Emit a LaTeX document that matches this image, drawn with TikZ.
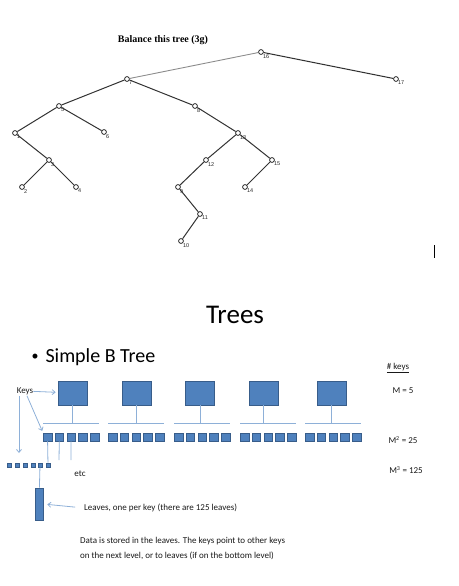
\documentclass[tikz,border=0pt]{standalone}
\usepackage{fontspec}
\setmainfont{Carlito}
\newfontfamily\serifb{Liberation Serif}
\newfontfamily\tinysans{Liberation Sans}
\usetikzlibrary{arrows.meta}
\definecolor{boxfill}{HTML}{4F81BD}
\definecolor{boxline}{HTML}{385D8A}
\definecolor{lineblue}{HTML}{8EB0D8}
\begin{document}
\begin{tikzpicture}[x=1pt,y=-1pt,
  tn/.style={circle,draw=black!85,line width=0.8pt,minimum size=4.8pt,inner sep=0pt},
  lbl/.style={font=\tinysans\fontsize{5.5}{6}\selectfont,inner sep=0pt,anchor=north west,text=black!85},
  edge/.style={draw=black!80,line width=1pt},
  edgel/.style={draw=black!45,line width=0.9pt},
  bigbox/.style={draw=boxline,fill=boxfill,line width=0.6pt,minimum width=29pt,minimum height=24pt,inner sep=0pt},
  sq/.style={draw=boxline,fill=boxfill,line width=0.5pt,minimum width=8.5pt,minimum height=8pt,inner sep=0pt},
  tsq/.style={draw=boxline,fill=boxfill,line width=0.4pt,minimum width=4.5pt,minimum height=4.5pt,inner sep=0pt},
  leaf/.style={draw=boxline,fill=boxfill,line width=0.6pt,minimum width=8pt,minimum height=32pt,inner sep=0pt},
  bl/.style={draw=lineblue,line width=0.8pt},
  arr/.style={draw=lineblue,line width=0.8pt,-{Straight Barb[length=3pt,width=5pt]}},
  txt/.style={font=\fontsize{9}{11}\selectfont,inner sep=0pt,text=black!90}
]
\useasboundingbox (0,0) rectangle (458,586);

% ---------- top tree ----------
\node[font=\serifb\bfseries\fontsize{10}{12}\selectfont] (title) at (163,40) {Balance this tree (3g)};
\foreach \n/\x/\y in {16/261/52,17/396/79,7/127/79,5/59/106,8/195/106,1/15/133,6/104/132,13/238/133,3/49/160,12/206/160,15/272/160,2/22/187,4/76/187,9/178/187,14/245/187,11/200/214,10/181/241}
  \node[tn,label={[lbl]south east:\n}] (n\n) at (\x,\y) {};
\draw[edgel] (n16) -- (n7);
\draw[edge] (n16) -- (n17);
\draw[edge] (n7) -- (n5);
\draw[edge] (n7) -- (n8);
\draw[edge] (n5) -- (n1);
\draw[edge] (n5) -- (n6);
\draw[edge] (n1) -- (n3);
\draw[edge] (n3) -- (n2);
\draw[edge] (n3) -- (n4);
\draw[edge] (n8) -- (n13);
\draw[edge] (n13) -- (n12);
\draw[edge] (n13) -- (n15);
\draw[edge] (n12) -- (n9);
\draw[edge] (n9) -- (n11);
\draw[edge] (n11) -- (n10);
\draw[edge] (n15) -- (n14);
\coordinate (cur1) at (434,245);
\coordinate (cur2) at (434,258);
\draw[black,line width=0.8pt] (cur1) -- (cur2);

% ---------- B tree slide ----------
\node[font=\fontsize{27}{30}\selectfont] (trees) at (235,315) {Trees};
\node[font=\fontsize{20}{24}\selectfont,anchor=west] (simple) at (28,357) {\raisebox{2pt}{\fontsize{14}{14}\selectfont\textbullet}\hspace{7pt}Simple B Tree};

\node[txt] (hk) at (398,368) {\underline{\# keys}};
\node[txt] (m1) at (403,391) {M = 5};
\node[txt] (m2) at (403,440) {M\textsuperscript{2} = 25};
\node[txt] (m3) at (406,470) {M\textsuperscript{3} = 125};

\foreach \g/\bx/\sx in {1/72.5/43,2/136.5/108,3/200/174,4/263.5/240,5/331.5/305} {
  \node[bigbox] (b\g) at (\bx,393) {};
  \coordinate (h\g) at (\bx,423);
  \coordinate (hl\g) at (\sx,423);
  \coordinate (hr\g) at (\sx+56,423);
  \draw[bl] (b\g) -- (h\g);
  \draw[bl] (hl\g) -- (hr\g);
  \foreach \i in {0,...,4}
    \node[sq] (s\g\i) at (\sx+4.5+\i*11.8,437) {};
}

\foreach \i/\x in {1/9,2/17,3/25,4/33,5/40,6/48}
  \node[tsq] (t\i) at (\x,465) {};
\coordinate (e1) at (59,460);
\coordinate (e2) at (71,460);
\draw[bl] (s10) -- (t6);
\draw[bl] (s11.south) -- (e1);
\draw[bl] (s12.south) -- (e2);

\node[leaf] (leaf) at (39,504) {};
\draw[bl] (t5) -- (leaf);

\node[txt] (etc) at (80,474) {etc};

\node[txt] (keys) at (25,391) {Keys};
\draw[arr,shorten >=2pt] (keys) -- (b1);
\coordinate (kd) at (19,453);
\draw[arr] ([xshift=-6pt,yshift=-1pt]keys.south) -- (kd);
\draw[arr,shorten >=2pt] ([xshift=2pt,yshift=-1pt]keys.south) -- (s10.north west);

\node[txt,anchor=west] (leaves) at (84,508) {Leaves, one per key (there are 125 leaves)};
\draw[arr,shorten <=9pt,shorten >=4pt] (leaves.west) -- (leaf.east);

\node[txt,anchor=north west,align=left,font=\fontsize{9}{15}\selectfont] (data) at (80,537)
  {Data is stored in the leaves. The keys point to other keys\\on the next level, or to leaves (if on the bottom level)};
\end{tikzpicture}
\end{document}
